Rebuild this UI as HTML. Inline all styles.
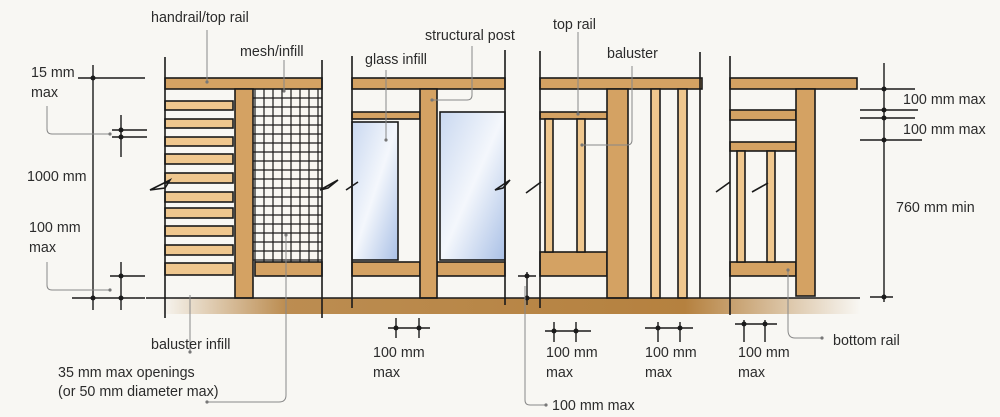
<!DOCTYPE html>
<html><head><meta charset="utf-8"><style>
html,body{margin:0;padding:0;background:#f8f7f3}
svg{display:block}
text{font-family:"Liberation Sans",sans-serif;font-size:14.3px;fill:#2b2b2b}
</style></head><body>
<svg width="1000" height="417" viewBox="0 0 1000 417">
<defs>
<linearGradient id="gr" x1="160" y1="0" x2="860" y2="0" gradientUnits="userSpaceOnUse">
<stop offset="0" stop-color="#b5813f" stop-opacity="0"/>
<stop offset="0.18" stop-color="#b5813f" stop-opacity="0.9"/>
<stop offset="0.75" stop-color="#b5813f"/>
<stop offset="1" stop-color="#b5813f" stop-opacity="0"/>
</linearGradient>
<linearGradient id="gl" x1="0" y1="0" x2="1" y2="1">
<stop offset="0" stop-color="#c9d8f0"/><stop offset="0.5" stop-color="#f4f7fc"/><stop offset="1" stop-color="#a9c0e6"/>
</linearGradient>
</defs>
<rect x="160" y="298" width="700" height="16" fill="url(#gr)"/>
<g stroke="#1a1a1a" stroke-width="1.6" fill="#d4a263">
<rect x="165" y="78" width="157" height="11"/>
<g fill="#efc78e">
<rect x="165" y="101" width="68" height="9"/><rect x="165" y="119" width="68" height="9"/>
<rect x="165" y="137" width="68" height="9"/><rect x="165" y="154" width="68" height="10"/>
<rect x="165" y="173" width="68" height="10"/><rect x="165" y="192" width="68" height="10"/>
<rect x="165" y="208" width="68" height="10"/><rect x="165" y="226" width="68" height="10"/>
<rect x="165" y="245" width="68" height="10"/><rect x="165" y="263" width="68" height="12"/>
</g>
<rect x="235" y="89" width="18" height="209"/>
<rect x="255" y="262" width="67" height="14"/>
<rect x="352" y="78" width="153" height="11"/>
<rect x="352" y="112" width="68" height="7"/>
<rect x="352" y="262" width="68" height="14"/><rect x="437" y="262" width="68" height="14"/>
<rect x="420" y="89" width="17" height="209"/>
<rect x="352" y="122" width="46" height="138" fill="url(#gl)"/>
<rect x="440" y="112" width="65" height="148" fill="url(#gl)"/>
<rect x="540" y="78" width="162" height="11"/>
<rect x="540" y="112" width="68" height="7"/>
<rect x="540" y="252" width="67" height="24"/>
<rect x="607" y="89" width="21" height="209"/>
<g fill="#efc78e">
<rect x="545" y="119" width="8" height="133"/><rect x="577" y="119" width="8" height="133"/>
<rect x="651" y="89" width="9" height="209"/><rect x="678" y="89" width="9" height="209"/>
</g>
<rect x="730" y="78" width="127" height="11"/>
<rect x="730" y="110" width="66" height="10"/><rect x="730" y="142" width="66" height="9"/>
<rect x="730" y="262" width="66" height="14"/>
<rect x="796" y="89" width="19" height="207"/>
<g fill="#efc78e"><rect x="737" y="151" width="8" height="111"/><rect x="767" y="151" width="8" height="111"/></g>
</g>
<g stroke="#1a1a1a" stroke-width="1.2">
<path d="M255 89V262M264 89V262M273 89V262M282 89V262M291 89V262M300 89V262M309 89V262M318 89V262"/>
<path d="M253 98H322M253 107H322M253 116H322M253 125H322M253 134H322M253 143H322M253 152H322M253 161H322M253 170H322M253 179H322M253 188H322M253 197H322M253 206H322M253 215H322M253 224H322M253 233H322M253 242H322M253 251H322M253 260H322"/>
</g>
<g stroke="#1a1a1a" stroke-width="1.6" fill="none">
<path d="M146 298H860"/>
<path d="M165 57V318M322 60V318M352 56V308M505 50V305M540 51V308M700 52V298M730 56V315"/>
<path d="M150 190L170 180L165 188ZM320 190L338 180L328 188ZM346 190L358 182ZM495 190L510 180L503 188ZM526 193L541 182M752 192L768 183M716 192L730 182"/>
</g>
<g stroke="#1a1a1a" stroke-width="1.4" fill="none">
<path d="M93 65V310M78 78H145M72 298H135M108 298H145M110 276H145M112 130H147M112 137H147M121 115V157M121 262V310"/>
<path d="M884 63V302M860 89H915M860 110H918M860 118H915M860 140H922M870 297H893"/>
<path d="M527 272V305M518 276H536M396 318V338M419 318V338M388 328H430M554 322V342M576 322V342M545 331H591M658 322V342M680 322V342M645 328H693M744 320V342M765 320V342M735 324H777"/>
</g>
<g fill="#1a1a1a">
<circle cx="93" cy="78" r="2.5"/><circle cx="93" cy="298" r="2.5"/><circle cx="121" cy="130" r="2.5"/><circle cx="121" cy="137" r="2.5"/><circle cx="121" cy="276" r="2.5"/><circle cx="121" cy="298" r="2.5"/>
<circle cx="884" cy="89" r="2.5"/><circle cx="884" cy="110" r="2.5"/><circle cx="884" cy="118" r="2.5"/><circle cx="884" cy="140" r="2.5"/><circle cx="884" cy="297" r="2.5"/>
<circle cx="396" cy="328" r="2.5"/><circle cx="419" cy="328" r="2.5"/><circle cx="554" cy="331" r="2.5"/><circle cx="576" cy="331" r="2.5"/><circle cx="658" cy="328" r="2.5"/><circle cx="680" cy="328" r="2.5"/><circle cx="744" cy="324" r="2.5"/><circle cx="765" cy="324" r="2.5"/>
<circle cx="527" cy="276" r="2.5"/><circle cx="527" cy="298" r="2.5"/>
</g>
<g stroke="#888" stroke-width="1" fill="none">
<path d="M207 30V82M284 60V91M190 295V352M286 235V395Q286 402 279 402H207"/>
<path d="M47 106V129Q47 134 52 134H110M47 262V285Q47 290 52 290H110"/>
<path d="M472 46V95Q472 100 467 100H432M386 70V140"/>
<path d="M578 32V114M632 66V140Q632 145 627 145H582"/>
<path d="M525 286V400Q525 405 530 405H546M788 270V330Q788 338 795 338H822"/>
</g>
<g fill="#777"><circle cx="207" cy="82" r="1.6"/><circle cx="284" cy="91" r="1.6"/><circle cx="190" cy="352" r="1.6"/><circle cx="286" cy="235" r="1.6"/><circle cx="207" cy="402" r="1.6"/><circle cx="110" cy="134" r="1.6"/><circle cx="110" cy="290" r="1.6"/><circle cx="386" cy="140" r="1.6"/><circle cx="432" cy="100" r="1.6"/><circle cx="578" cy="114" r="1.6"/><circle cx="582" cy="145" r="1.6"/><circle cx="788" cy="270" r="1.6"/><circle cx="822" cy="338" r="1.6"/><circle cx="546" cy="405" r="1.6"/></g>
<text x="151" y="22">handrail/top rail</text>
<text x="240" y="56">mesh/infill</text>
<text x="31" y="77">15 mm</text><text x="31" y="97">max</text>
<text x="27" y="181">1000 mm</text>
<text x="29" y="232">100 mm</text><text x="29" y="252">max</text>
<text x="151" y="349">baluster infill</text>
<text x="58" y="377">35 mm max openings</text>
<text x="58" y="396">(or 50 mm diameter max)</text>
<text x="365" y="64">glass infill</text>
<text x="425" y="40">structural post</text>
<text x="553" y="29">top rail</text>
<text x="607" y="58">baluster</text>
<text x="373" y="357">100 mm</text><text x="373" y="377">max</text>
<text x="546" y="357">100 mm</text><text x="546" y="377">max</text>
<text x="645" y="357">100 mm</text><text x="645" y="377">max</text>
<text x="738" y="357">100 mm</text><text x="738" y="377">max</text>
<text x="833" y="345">bottom rail</text>
<text x="552" y="410">100 mm max</text>
<text x="903" y="104">100 mm max</text>
<text x="903" y="134">100 mm max</text>
<text x="896" y="212">760 mm min</text>
</svg>
</body></html>
